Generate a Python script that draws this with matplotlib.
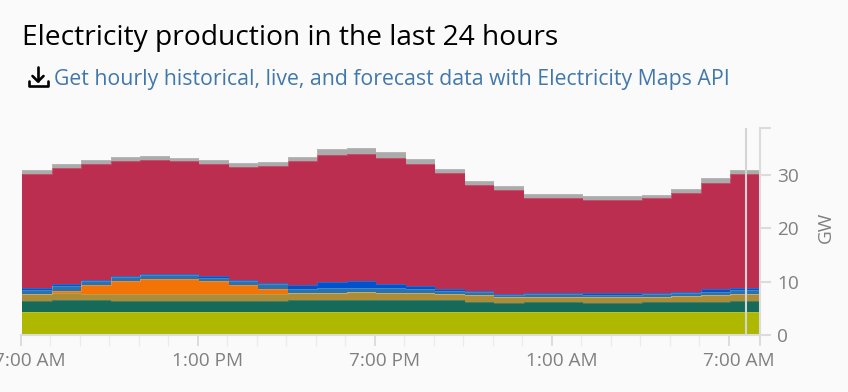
import numpy as np
import matplotlib.pyplot as plt
from matplotlib.lines import Line2D
from matplotlib.transforms import ScaledTranslation

W, H = 848, 392
BG = '#fafafa'
AXIS = '#dcdcdc'
TXT = '#808080'

# GW per hour, bottom layer first
nuclear = [4.36] * 25
teal = [1.99, 2.12, 2.12, 1.99, 1.99, 1.99, 1.99, 1.99, 1.99, 2.12, 2.12, 2.12, 2.12,
        2.12, 2.12, 1.87, 1.68, 1.87, 1.87, 1.68, 1.68, 1.81, 1.87, 1.87, 1.99]
brown = [1.31, 1.37, 1.25, 1.25, 1.25, 1.25, 1.25, 1.31, 1.31, 1.37, 1.43, 1.56, 1.43,
         1.37, 1.18, 1.18, 1.06, 0.87, 0.87, 1.00, 1.00, 0.93, 1.06, 1.18, 1.25]
orange = [0, 0.44, 1.56, 2.43, 2.93, 2.93, 2.49, 1.68, 0.93, 0, 0, 0, 0,
          0, 0, 0, 0, 0, 0, 0, 0, 0, 0, 0, 0]
hydro = [0.81, 0.93, 0.75, 0.75, 0.62, 0.62, 0.62, 0.75, 0.87, 0.81, 0.87, 0.81, 0.93,
         0.81, 0.62, 0.62, 0.44, 0.56, 0.62, 0.50, 0.50, 0.56, 0.62, 0.69, 0.87]
blue = [0.25, 0.25, 0.25, 0.25, 0.25, 0.19, 0.31, 0.19, 0.19, 0.62, 1.06, 1.18, 0.75,
        0.44, 0.31, 0.19, 0.19, 0.19, 0.12, 0.25, 0.25, 0.19, 0.12, 0.44, 0.31]
gas = [21.43, 21.68, 21.74, 21.43, 21.31, 21.12, 20.87, 21.18, 21.99, 23.18, 23.80, 23.86, 23.55,
       22.93, 21.62, 19.75, 19.44, 17.82, 17.82, 17.45, 17.45, 17.69, 18.57, 19.94, 21.37]
other = [0.75, 0.81, 0.69, 0.75, 0.69, 0.69, 0.75, 0.69, 0.69, 0.81, 1.12, 1.06, 1.00,
         0.81, 0.75, 0.75, 0.62, 0.69, 0.62, 0.69, 0.75, 0.69, 0.62, 0.81, 0.75]

layers = [nuclear, teal, brown, orange, hydro, blue, gas, other]
colors = ['#aeb800', '#166a57', '#ad8c35', '#f27406', '#2772b2', '#0052cc', '#bc2e4f', '#ababab']

hours = np.arange(26)
major_hours = [0, 6, 12, 18, 24]
major_labels = ['7:00 AM', '1:00 PM', '7:00 PM', '1:00 AM', '7:00 AM']
y_ticks = [0, 10, 20, 30, 38.7]
y_labels = ['0', '10', '20', '30', '']

plt.rcParams['font.family'] = ['Open Sans', 'DejaVu Sans']

fig = plt.figure(figsize=(W / 100, H / 100), dpi=100, facecolor=BG)
ax = fig.add_axes([20.6 / W, (H - 335) / H, 739.4 / W, 207 / H], facecolor=BG)

base = np.zeros(25)
for vals, c in zip(layers, colors):
    top = base + np.array(vals)
    ax.stairs(top, hours, baseline=base, fill=True, color=c, lw=0)
    if max(vals) > 0:
        ax.stairs(top, hours, baseline=None, color='white', alpha=0.15, lw=0.8)
    base = top

ax.axvline(24.53, ymin=0, ymax=0.995, color='#d4d4d4', lw=1.5)

ax.set_xlim(-0.047, 25)
ax.set_ylim(0, 38.7)
for s in ['top', 'left']:
    ax.spines[s].set_visible(False)
for s in ['bottom', 'right']:
    ax.spines[s].set_color(AXIS)
    ax.spines[s].set_linewidth(1.5)

ax.yaxis.tick_right()
ax.set_yticks(y_ticks, y_labels)
ax.tick_params(axis='y', length=8, width=1.5, color=AXIS, labelcolor=TXT, labelsize=13.7, pad=4.5)

# the tick marks sit a little left of the steps, the labels a little right of them
ax.set_xticks([h - 0.05 for h in major_hours] + [25], major_labels + [''])
ax.set_xticks([h - 0.05 for h in hours[:25] if h not in major_hours], minor=True)
ax.tick_params(axis='x', which='major', length=8, width=1.4, color=AXIS, labelcolor=TXT, labelsize=13.7, pad=4.5)
ax.tick_params(axis='x', which='minor', length=8, width=1, color='#ececec')
for lab in ax.get_xticklabels():
    lab.set_clip_on(False)
    lab.set_transform(lab.get_transform() + ScaledTranslation(9.5 / 100, 0, fig.dpi_scale_trans))

fig.text(826 / W, 1 - 227 / H, 'GW', rotation=90, color=TXT, fontsize=13.7, ha='center', va='center')
fig.text(22 / W, 1 - 37.5 / H, 'Electricity production in the last 24 hours', color='#000000',
         fontsize=20.25, ha='left', va='center')
fig.text(54 / W, 1 - 79 / H, 'Get hourly historical, live, and forecast data with Electricity Maps API',
         color='#4178ac', fontsize=15.35, ha='left', va='center')

# download icon, in pixel positions
def px_line(xs, ys):
    fig.add_artist(Line2D([x / W for x in xs], [1 - y / H for y in ys], color='black', lw=1.9,
                          solid_capstyle='round', solid_joinstyle='round'))

px_line([38, 38], [67, 81])
px_line([32.5, 38, 43.5], [76, 81.5, 76])
px_line([28.5, 28.5, 47.5, 47.5], [81, 86, 86, 81])

fig.savefig('out.png', dpi=100, facecolor=BG)
